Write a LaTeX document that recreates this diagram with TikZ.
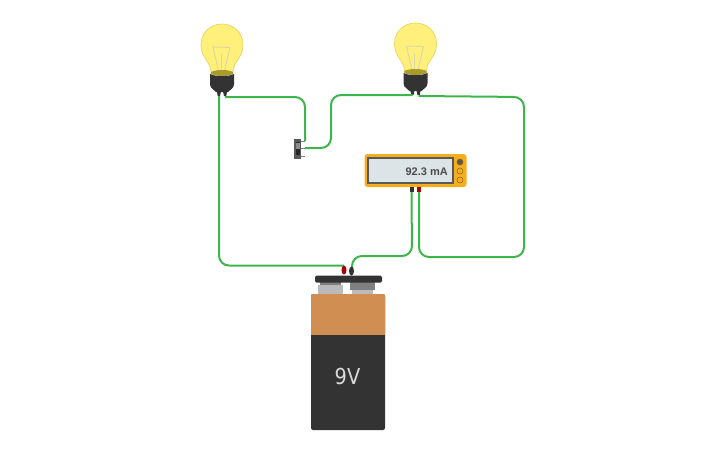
\documentclass[tikz,border=0pt]{standalone}
\usepackage{fontspec}
\setmainfont{Liberation Sans}
\newfontfamily\battfont[FakeStretch=0.88]{DejaVu Sans}
\usetikzlibrary{calc,shapes.geometric}
\definecolor{wiregreen}{HTML}{3DB54A}
\definecolor{darkbody}{HTML}{333333}
\definecolor{meterorange}{HTML}{F5AE1E}
\definecolor{battorange}{HTML}{D08E52}
\definecolor{lampyellow}{HTML}{FFF07C}
\definecolor{lampedge}{HTML}{E6D65C}
\definecolor{lampneck}{HTML}{A99A2C}
\definecolor{lampwire}{HTML}{DDD6A6}
\definecolor{screenblue}{HTML}{DCE4E8}
\tikzset{wire/.style={line width=2pt, wiregreen, rounded corners=10pt}}
\tikzset{glass/.style={fill=lampyellow, draw=lampedge, line width=0.7pt}}
\tikzset{filament/.style={draw=lampwire, line width=0.9pt}}
\tikzset{leadred/.style={fill=red!65!black, draw=none}}
\tikzset{leadblack/.style={fill=darkbody, draw=none}}
\tikzset{knob/.style={circle, draw=black!45!meterorange, line width=0.5pt, minimum size=6pt, inner sep=0pt}}
\tikzset{lamp/.pic={
\filldraw[glass] (-11,48) .. controls (-11,38) and (-21,34) .. (-21,21) .. controls (-21,9) and (-12,0) .. (0,0) .. controls (12,0) and (21,9) .. (21,21) .. controls (21,34) and (11,38) .. (11,48) -- cycle;
\draw[filament] (-3,49)--(-9,23)--(8,23.5)--(2,49);
\draw[filament] (-1,49)--(-1,30);
\fill[lampneck] (0,49) ellipse (11.5 and 3);
\fill[darkbody] (-12,50) .. controls (-6,53) and (6,53) .. (12,50) -- (12,60) .. controls (12,65) and (8,65) .. (6,68) -- (-6,68) .. controls (-8,65) and (-12,65) .. (-12,60) -- cycle;
\fill[darkbody] (-5.5,66) -- (-4.2,72) -- (-2,72) -- (-0.7,66) -- cycle;
\fill[darkbody] (0.7,66) -- (2,72) -- (4.2,72) -- (5.5,66) -- cycle;
\coordinate (-pinl) at (-3,72);
\coordinate (-pinr) at (3,73);
}}

\begin{document}
\begin{tikzpicture}[x=1pt,y=-1pt]
\useasboundingbox (0,0) rectangle (725,453);

%terminals of the parts
\coordinate (swtop) at (305,141);
\coordinate (swmid) at (305,148);
\coordinate (swlow) at (305,156);
\coordinate (meterblk) at (411.5,192);
\coordinate (meterred) at (419,192);
\coordinate (battred) at (344,265.5);
\coordinate (battblk) at (352,268);
\coordinate (cbend) at (331,120);
\coordinate (dtop) at (524,97);
\coordinate (dbot) at (524,257);
\coordinate (dfoot) at (419,257);
\coordinate (etop) at (412,256);
\coordinate (efoot) at (352,256);

%lamps
\pic (lampa) at (222,24) {lamp};
\pic (lampb) at (415.5,23) {lamp};

%wires
\draw[wire] (lampa-pinl) |- (battred);
\draw[wire] (lampa-pinr) -| (swtop);
\draw[wire] (swmid) -| (cbend) |- (lampb-pinl);
\draw[wire] (lampb-pinr) -- (dtop) -- (dbot) -- (dfoot) -- (meterred);
\draw[wire] (meterblk) -- (etop) -- (efoot) -- (battblk);

%switch
\draw[black!50, line width=1pt] (300,141)--(swtop) (300,148)--(swmid) (300,156)--(swlow);
\node (swbody) at (297.5,148.5)[fill=black!65, minimum width=7pt, minimum height=20pt, inner sep=0pt]{};
\node (swslot) at (297.5,148.5)[fill=black!85, minimum width=4pt, minimum height=13pt, inner sep=0pt]{};
\node (swknob) at (297.5,145.5)[fill=black!45, minimum width=4pt, minimum height=6pt, inner sep=0pt]{};

%meter
\node (meter) at (415.5,170.5)[fill=meterorange, rounded corners=3pt, minimum width=102pt, minimum height=33pt, inner sep=0pt]{};
\node (screen) at (410.5,170.5)[fill=screenblue, draw=black!65, line width=1.3pt, minimum width=85pt, minimum height=25pt, inner sep=0pt]{};
\node (reading) at (448,172)[anchor=east, text=black!70, font=\bfseries\fontsize{11}{11}\selectfont, inner sep=0pt]{92.3 mA};
\node (knoba) at (460,162)[knob, fill=black!65]{};
\node (knobb) at (460,171)[knob]{};
\node (knobc) at (460,180)[knob]{};
\node (leadb) at (411.5,189)[leadblack, minimum width=4pt, minimum height=5pt, inner sep=0pt]{};
\node (leadr) at (419,189)[leadred, minimum width=4pt, minimum height=5pt, inner sep=0pt]{};

%battery
\node (termla) at (330.5,284)[fill=black!50, minimum width=21pt, minimum height=5pt, inner sep=0pt]{};
\node (termlb) at (330.5,289.5)[fill=black!27, minimum width=25pt, minimum height=9pt, inner sep=0pt]{};
\node (termra) at (362.5,286)[fill=black!50, minimum width=25pt, minimum height=8pt, inner sep=0pt]{};
\node (termrb) at (362.5,292)[fill=black!27, minimum width=21pt, minimum height=4pt, inner sep=0pt]{};
\node (cap) at (348.5,279)[fill=darkbody, rounded corners=1.5pt, minimum width=67pt, minimum height=7pt, inner sep=0pt]{};
\fill[darkbody, rounded corners=2pt] (311,294) rectangle (385,430);
\fill[battorange, rounded corners=2pt] (311,294) rectangle (385,336);
\fill[darkbody] (311,334.5) rectangle (385,338);
\node (battlabel) at (347.5,376)[text=black!15, font=\battfont\fontsize{22}{22}\selectfont, inner sep=0pt]{9V};
\node (pinred) at (344,270)[leadred, ellipse, minimum width=5pt, minimum height=9pt, inner sep=0pt]{};
\node (pinblk) at (351.5,271)[leadblack, ellipse, minimum width=5pt, minimum height=9pt, inner sep=0pt]{};
\end{tikzpicture}
\end{document}
